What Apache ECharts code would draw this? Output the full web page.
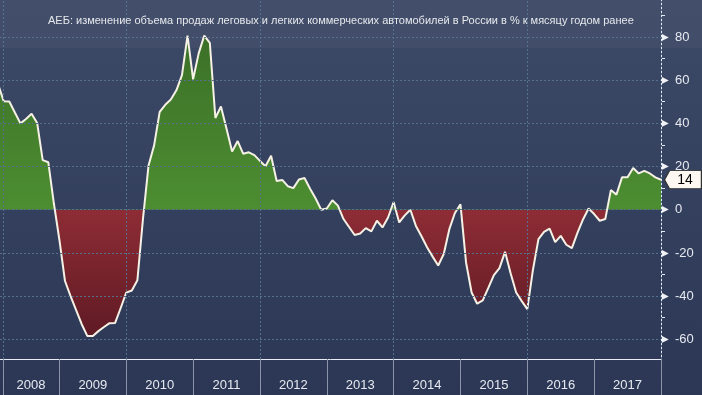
<!DOCTYPE html>
<html><head><meta charset="utf-8">
<script src="https://cdn.jsdelivr.net/npm/echarts@6/dist/echarts.min.js"></script>
<style>html,body{margin:0;padding:0;background:#33405d}#c{width:702px;height:395px}</style>
</head><body><div id="c"></div>
<script>
const chartTitle = 'АЕБ: изменение объема продаж леговых и легких коммерческих автомобилей в России в % к мясяцу годом ранее';
const startYear = 2008;
const v2008 = [58, 50.2, 50.1, 45, 40, 42, 44.4, 40.2, 23, 22, 3, -14];
const v2009 = [-33, -40, -46.5, -53, -58.4, -58.4, -56.2, -54.3, -52.5, -52.4, -45.5, -38.4];
const v2010 = [-37.4, -32.6, -4.2, 20.5, 29.8, 45.3, 48.6, 51, 55.3, 62.3, 80.6, 60.4];
const v2011 = [72.4, 80.6, 77.3, 42.5, 47.8, 37.5, 27, 31.8, 25.9, 26.6, 25.3, 22.6];
const v2012 = [20.1, 25, 13.3, 13.8, 10.9, 10, 14, 14.7, 9.7, 5.2, 0, 0.6];
const v2013 = [4.4, 1.9, -4.3, -8, -11.7, -11, -8.5, -10, -5.1, -8.2, -3.6, 3.6];
const v2014 = [-5.9, -2.6, 0, -7.5, -12.3, -17.4, -21.7, -25.8, -20.5, -9, -1.5, 2.5];
const v2015 = [-24.4, -38.3, -43.5, -42, -36.2, -30.3, -27, -19.5, -29.4, -38.3, -42.3, -46];
const v2016 = [-28, -13.6, -10.2, -8.7, -15, -12.1, -16.2, -17.8, -10.7, -4.5, 0.6, -2];
const v2017 = [-5.1, -4.3, 9.1, 7, 15, 15, 19.3, 16.8, 18, 16.8, 15, 13.9];
const yearLabels = [2008, 2009, 2010, 2011, 2012, 2013, 2014, 2015, 2016, 2017];
const yTickLabels = [-60, -40, -20, 0, 20, 40, 60, 80];
const yMinorTicks = [-50, -30, -10, 10, 30, 50, 70, 90];
const yGridLines = [-60, -40, -20, 0, 20, 40, 60, 80];
const xGridLines = [2008.16, 2010, 2012, 2014, 2016, 2018];
const xTickValues = [2008.16, 2009, 2010, 2011, 2012, 2013, 2014, 2015, 2016, 2017, 2018];

const X_MIN = 2008.111, X_MAX = 2018;
const allValues = [].concat(v2008, v2009, v2010, v2011, v2012, v2013, v2014, v2015, v2016, v2017);
const points = allValues.map((v, i) => [startYear + (i + 1) / 12, v]);
const last = points[points.length - 1];
const labelPos = yearLabels.map((y, i) => i === 0 ? (X_MIN + y + 1) / 2 + 0.02 : y + 0.5);

const chart = echarts.init(document.getElementById('c'));
const fillGrad = {
  type: 'linear', x: 0, y: 0, x2: 0, y2: 359, global: true,
  colorStops: [
    {offset: 0, color: '#386a26'},
    {offset: 0.585, color: '#4d8e31'},
    {offset: 0.585, color: '#8e2c35'},
    {offset: 1, color: '#571721'}
  ]
};
chart.setOption({
  animation: false,
  backgroundColor: {
    type: 'linear', x: 0, y: 0, x2: 0, y2: 1,
    colorStops: [
      {offset: 0, color: '#424e6a'},
      {offset: 0.122, color: '#414d69'},
      {offset: 0.122, color: '#3b4865'},
      {offset: 1, color: '#2b3755'}
    ]
  },
  title: {
    text: chartTitle, left: 48, top: 15, padding: 0,
    textStyle: {color: '#e6e8ec', fontSize: 11, fontWeight: 'normal', fontFamily: 'Liberation Sans'}
  },
  grid: {left: 0, right: 41, top: 0, bottom: 36, containLabel: false, outerBoundsMode: 'none'},
  xAxis: {
    type: 'value', min: X_MIN, max: X_MAX,
    axisLine: {show: true, onZero: false, lineStyle: {color: '#e8ecf2', width: 1}},
    axisTick: {show: true, customValues: xTickValues, length: 36, lineStyle: {color: '#8c95a8'}},
    axisLabel: {customValues: labelPos, formatter: v => String(Math.floor(v)), color: '#e6eaf0',
      fontSize: 13, fontFamily: 'Liberation Sans', margin: 20},
    splitLine: {show: false}
  },
  yAxis: {
    type: 'value', position: 'right', min: -69.1, max: 97.1,
    axisLine: {show: true, onZero: false, lineStyle: {color: '#e8ecf2', width: 1}},
    axisTick: {show: true, customValues: yMinorTicks, length: 4, lineStyle: {color: '#e8ecf2'}},
    axisLabel: {customValues: yTickLabels, margin: 0, color: '#e6eaf0', fontSize: 13, fontFamily: 'Liberation Sans',
      formatter: v => '{t|▶}' + v,
      rich: {t: {fontSize: 10, color: '#f0f2f6', padding: [0, 6, 0, 0]}}},
    splitLine: {show: false}
  },
  series: [
    {
      type: 'line', data: points, z: 1, showSymbol: false, silent: true,
      lineStyle: {opacity: 0},
      markLine: {
        silent: true, symbol: 'none', label: {show: false}, animation: false,
        lineStyle: {type: [2, 2], color: '#56708f', width: 1},
        data: yGridLines.map(v => ({yAxis: v})).concat(xGridLines.map(v => ({xAxis: v})))
      }
    },
    {
      type: 'line', data: points, z: 3, showSymbol: false, silent: true,
      lineStyle: {color: '#f5f1e4', width: 2},
      areaStyle: {origin: 0, color: fillGrad, opacity: 1},
      markPoint: {
        silent: true,
        data: [{coord: last, value: Math.round(last[1])}],
        symbol: 'path://M0,9 L5,0 L37,0 L37,18 L5,18 Z',
        symbolSize: [37, 18], symbolOffset: [22, 0],
        itemStyle: {color: '#fdf9f2', borderColor: '#333', borderWidth: 1},
        label: {show: true, formatter: '{c}', color: '#000', fontSize: 14, fontFamily: 'Liberation Sans', offset: [2, 0]}
      }
    }
  ]
});
</script></body></html>
